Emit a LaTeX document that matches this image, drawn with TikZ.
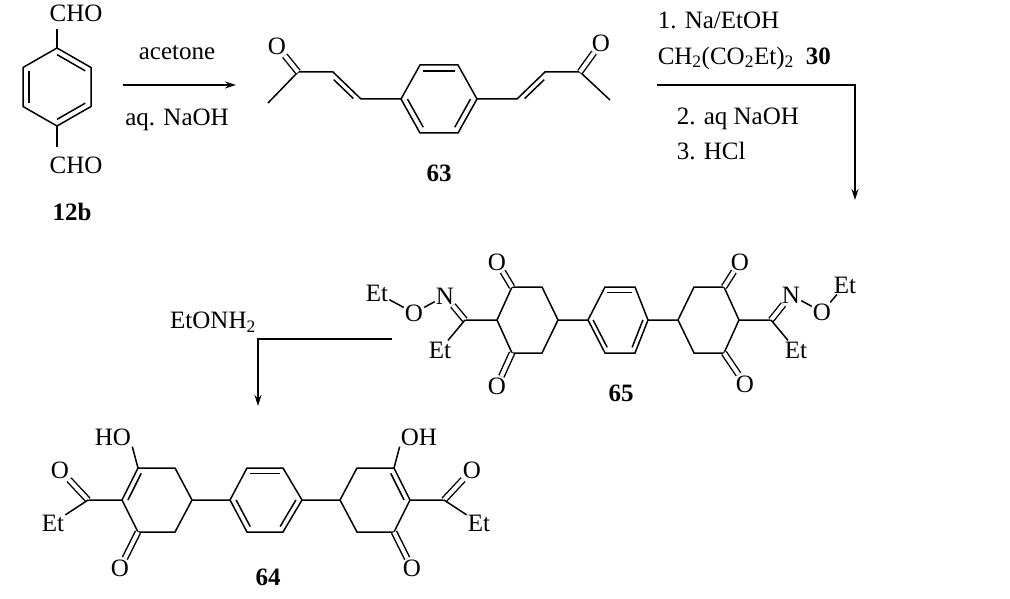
\documentclass[tikz,border=0pt]{standalone}
\usepackage{fontspec}
\setmainfont{Liberation Serif}
\usetikzlibrary{calc,arrows.meta}
\newcommand\dbin[3]{\draw ($(#1)!.17!(#3)$) -- ($(#2)!.17!(#3)$);}
\newcommand\dbs[3]{\path ($(#1)!.15!(#2)$) coordinate (t1) ($(#1)!.85!(#2)$) coordinate (t2); \draw ($(t1)!5pt!#3:(t2)$) -- ($(t2)!5pt!-#3:(t1)$);}
\begin{document}
\begin{tikzpicture}[x=1pt,y=-1pt,line width=1.5pt,
  atom/.style={inner sep=0.5pt,font=\fontsize{25}{27}\selectfont},
  txt/.style={inner sep=0pt,font=\fontsize{25}{27}\selectfont},
  lbl/.style={inner sep=0pt,font=\fontsize{25}{27}\selectfont\bfseries},
  dbl/.style={double,double distance=4pt,line width=1.4pt},
  arr/.style={-{Stealth[length=11pt,width=7pt]}}]
\useasboundingbox (0,0) rectangle (1010,599);
% ---- 12b
\foreach \n/\x/\y in {a1/57/48,a2/91/67.5,a3/91/106.5,a4/57/126,a5/23/106.5,a6/23/67.5}
  \coordinate (\n) at (\x,\y);
\coordinate (ac) at (57,87);
\draw (a1)--(a2)--(a3)--(a4)--(a5)--(a6)--cycle;
\dbin{a1}{a2}{ac}\dbin{a3}{a4}{ac}\dbin{a5}{a6}{ac}
\node[atom] (cho1) at (76,13) {CHO};
\node[atom] (cho2) at (76,165) {CHO};
\coordinate (a1t) at (57,29); \coordinate (a4b) at (57,147);
\draw (a1)--(a1t) (a4)--(a4b);
\node[lbl] (l12b) at (72,212) {12b};
% ---- arrow 1
\coordinate (r1s) at (123,85); \coordinate (r1e) at (236,85);
\draw[arr] (r1s)--(r1e);
\node[txt] (acet) at (177,53) {acetone};
\node[txt] (naoh1) at (177,120) {aq. NaOH};
% ---- 63
\foreach \n/\x/\y in {b1/401/99,b2/420/65,b3/458/65,b4/477/99,b5/458/133,b6/420/133,
  p1/361/99,p2/333/72,p3/298/72,p4/268/103,q1/517/99,q2/545/72,q3/580/72,q4/610/100}
  \coordinate (\n) at (\x,\y);
\coordinate (bc) at (439,99);
\draw (b1)--(b2)--(b3)--(b4)--(b5)--(b6)--cycle;
\dbin{b2}{b3}{bc}\dbin{b4}{b5}{bc}\dbin{b6}{b1}{bc}
\draw (b1)--(p1)--(p2)--(p3)--(p4);
\dbs{p1}{p2}{90}
\draw (b4)--(q1)--(q2)--(q3)--(q4);
\dbs{q1}{q2}{-90}
\node[atom] (o1) at (277,46) {O};
\node[atom] (o2) at (601,43) {O};
\draw[dbl] (p3)--(o1); \draw[dbl] (q3)--(o2);
\node[lbl] (l63) at (439,173) {63};
% ---- arrow 2
\coordinate (n1) at (657,85); \coordinate (n2) at (855,85); \coordinate (n3) at (855,200);
\draw[arr] (n1)--(n2)--(n3);
\node[txt,anchor=west] (rg1) at (657,20) {1. Na/EtOH};
\node[txt,anchor=west] (rg2) at (657,58) {CH\textsubscript{2}(CO\textsubscript{2}Et)\textsubscript{2}\hspace{12pt}\textbf{30}};
\node[txt,anchor=west] (rg3) at (676,119) {2. aq NaOH};
\node[txt,anchor=west] (rg4) at (676,151) {3. HCl};
% ---- 65
\foreach \n/\x/\y in {c1/588/320,c2/605/287,c3/635/287,c4/648/320,c5/635/353,c6/605/353,
  d1/497/320,d2/512/287,d3/542/287,d4/558/320,d5/542/353,d6/512/353,dC/465/320,
  e1/739/320,e2/724/287,e3/694/287,e4/678/320,e5/694/353,e6/724/353,eC/771/320}
  \coordinate (\n) at (\x,\y);
\coordinate (cc) at (618,320);
\draw (c1)--(c2)--(c3)--(c4)--(c5)--(c6)--cycle;
\dbin{c2}{c3}{cc}\dbin{c4}{c5}{cc}\dbin{c6}{c1}{cc}
\draw (d1)--(d2)--(d3)--(d4)--(d5)--(d6)--cycle (d4)--(c1) (d1)--(dC);
\draw (e1)--(e2)--(e3)--(e4)--(e5)--(e6)--cycle (e4)--(c4) (e1)--(eC);
\node[atom] (o3) at (497,262) {O};
\node[atom] (o4) at (497,386) {O};
\node[atom] (o5) at (740,262) {O};
\node[atom] (o6) at (745,384) {O};
\draw[dbl] (d2)--(o3); \draw[dbl] (d6)--(o4);
\draw[dbl] (e2)--(o5); \draw[dbl] (e6)--(o6);
\node[atom] (n4) at (445,296) {N};
\node[atom] (et1) at (440,350) {Et};
\node[atom] (ox1) at (414,313) {O};
\node[atom] (et2) at (377,293) {Et};
\draw[dbl] (dC)--(n4); \draw (dC)--(et1) (n4)--(ox1)--(et2);
\node[atom] (n5) at (791,295) {N};
\node[atom] (et3) at (796,350) {Et};
\node[atom] (ox2) at (822,312) {O};
\node[atom] (et4) at (845,285) {Et};
\draw[dbl] (eC)--(n5); \draw (eC)--(et3) (n5)--(ox2)--(et4);
\node[lbl] (l65) at (621,393) {65};
% ---- arrow 3
\coordinate (m1) at (392,339); \coordinate (m2) at (258,339); \coordinate (m3) at (258,406);
\draw[arr] (m1)--(m2)--(m3);
\node[txt] (etonh) at (213,322) {EtONH\textsubscript{2}};
% ---- 64
\foreach \n/\x/\y in {f1/230/500,f2/247/468,f3/283/468,f4/302/500,f5/283/532,f6/247/532,
  g1/122/500,g2/138/468,g3/175/468,g4/192/500,g5/175/532,g6/138/532,gC/88/500,
  h1/410/500,h2/394/468,h3/357/468,h4/340/500,h5/357/532,h6/394/532,hC/444/500}
  \coordinate (\n) at (\x,\y);
\coordinate (fc) at (266,500); \coordinate (gc) at (157,500); \coordinate (hc) at (375,500);
\draw (f1)--(f2)--(f3)--(f4)--(f5)--(f6)--cycle;
\dbin{f2}{f3}{fc}\dbin{f4}{f5}{fc}\dbin{f6}{f1}{fc}
\draw (g1)--(g2)--(g3)--(g4)--(g5)--(g6)--cycle (g4)--(f1) (g1)--(gC);
\draw (h1)--(h2)--(h3)--(h4)--(h5)--(h6)--cycle (h4)--(f4) (h1)--(hC);
\dbin{g1}{g2}{gc}\dbin{h1}{h2}{hc}
\node[atom] (ho1) at (113,437) {HO};
\node[atom] (ho2) at (419,437) {OH};
\draw (g2)--(ho1.south east) (h2)--(ho2.south west);
\node[atom] (o7) at (120,568) {O};
\node[atom] (o8) at (412,568) {O};
\draw[dbl] (g6)--(o7); \draw[dbl] (h6)--(o8);
\node[atom] (o9) at (60,470) {O};
\node[atom] (et5) at (53,523) {Et};
\node[atom] (o10) at (472,470) {O};
\node[atom] (et6) at (479,523) {Et};
\draw[dbl] (gC)--(o9); \draw (gC)--(et5);
\draw[dbl] (hC)--(o10); \draw (hC)--(et6);
\node[lbl] (l64) at (268,577) {64};
\end{tikzpicture}
\end{document}
